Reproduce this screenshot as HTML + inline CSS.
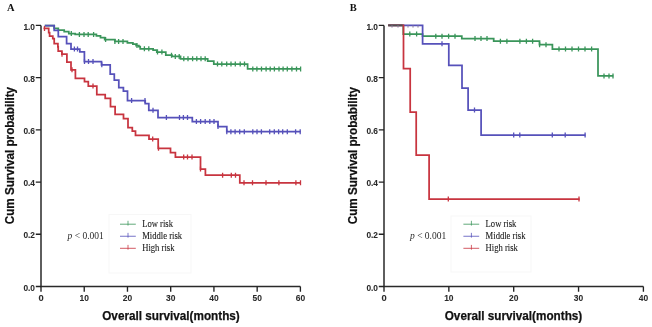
<!DOCTYPE html>
<html><head><meta charset="utf-8"><style>
html,body{margin:0;padding:0;background:#fff;}
body{width:652px;height:327px;overflow:hidden;}
svg{display:block;filter:blur(0.3px);}
.tl{font-family:"Liberation Sans",sans-serif;font-size:9.7px;font-weight:bold;fill:#2a2a2a;stroke:#2a2a2a;stroke-width:0.08px;}
.ti{font-family:"Liberation Sans",sans-serif;font-size:12px;font-weight:bold;fill:#111;stroke:#111;stroke-width:0.25px;}
.let{font-family:"Liberation Serif",serif;font-size:10.5px;font-weight:bold;fill:#111;}
.pv{font-family:"Liberation Serif",serif;font-size:9.5px;fill:#2a2a2a;}
.lg{font-family:"Liberation Serif",serif;font-size:9.3px;fill:#1a1a1a;stroke:#1a1a1a;stroke-width:0.1px;}
</style></head><body>
<svg width="652" height="327" viewBox="0 0 652 327">
<path d="M41.0,25.4V286.5H300.4" stroke="#2a2a2a" stroke-width="1.5" fill="none" stroke-linejoin="miter"/>
<path d="M35.8,286.50H41.0M35.8,234.28H41.0M35.8,182.06H41.0M35.8,129.84H41.0M35.8,77.62H41.0M35.8,25.40H41.0M41.00,286.5V291.7M84.23,286.5V291.7M127.47,286.5V291.7M170.70,286.5V291.7M213.93,286.5V291.7M257.17,286.5V291.7M300.40,286.5V291.7" stroke="#222" stroke-width="1.35" fill="none"/>
<text x="35.0" y="290.60" class="tl" text-anchor="end" textLength="11.6" lengthAdjust="spacingAndGlyphs">0.0</text>
<text x="35.0" y="238.38" class="tl" text-anchor="end" textLength="11.6" lengthAdjust="spacingAndGlyphs">0.2</text>
<text x="35.0" y="186.16" class="tl" text-anchor="end" textLength="11.6" lengthAdjust="spacingAndGlyphs">0.4</text>
<text x="35.0" y="133.94" class="tl" text-anchor="end" textLength="11.6" lengthAdjust="spacingAndGlyphs">0.6</text>
<text x="35.0" y="81.72" class="tl" text-anchor="end" textLength="11.6" lengthAdjust="spacingAndGlyphs">0.8</text>
<text x="35.0" y="29.50" class="tl" text-anchor="end" textLength="11.6" lengthAdjust="spacingAndGlyphs">1.0</text>
<text x="41.00" y="301.3" class="tl" text-anchor="middle" textLength="5.2" lengthAdjust="spacingAndGlyphs">0</text>
<text x="84.23" y="301.3" class="tl" text-anchor="middle" textLength="9.4" lengthAdjust="spacingAndGlyphs">10</text>
<text x="127.47" y="301.3" class="tl" text-anchor="middle" textLength="9.4" lengthAdjust="spacingAndGlyphs">20</text>
<text x="170.70" y="301.3" class="tl" text-anchor="middle" textLength="9.4" lengthAdjust="spacingAndGlyphs">30</text>
<text x="213.93" y="301.3" class="tl" text-anchor="middle" textLength="9.4" lengthAdjust="spacingAndGlyphs">40</text>
<text x="257.17" y="301.3" class="tl" text-anchor="middle" textLength="9.4" lengthAdjust="spacingAndGlyphs">50</text>
<text x="300.40" y="301.3" class="tl" text-anchor="middle" textLength="9.4" lengthAdjust="spacingAndGlyphs">60</text>
<text x="14.2" y="155.6" class="ti" text-anchor="middle" textLength="137.3" lengthAdjust="spacingAndGlyphs" transform="rotate(-90 14.2 155.6)">Cum Survival probability</text>
<text x="171.0" y="319.7" class="ti" text-anchor="middle" textLength="137.5" lengthAdjust="spacingAndGlyphs">Overall survival(months)</text>
<text x="7.0" y="10.8" class="let">A</text>
<text x="67.6" y="239.2" class="pv"><tspan font-style="italic">p</tspan> &lt; 0.001</text>
<rect x="109" y="214.5" width="82" height="58.5" fill="none" stroke="#f7f7f7" stroke-width="1"/>
<path d="M120.0,224.2H135.8" stroke="#3a955a" stroke-width="0.95" opacity="0.85"/>
<path d="M128.0,220.79999999999998V225.6" stroke="#3a955a" stroke-width="0.9" opacity="0.85"/>
<text x="142.2" y="227.00" class="lg" textLength="30.8" lengthAdjust="spacingAndGlyphs">Low risk</text>
<path d="M120.0,236.25H135.8" stroke="#5651ba" stroke-width="0.95" opacity="0.85"/>
<path d="M128.0,232.85V237.65" stroke="#5651ba" stroke-width="0.9" opacity="0.85"/>
<text x="142.2" y="239.05" class="lg" textLength="39.9" lengthAdjust="spacingAndGlyphs">Middle risk</text>
<path d="M120.0,248.29999999999998H135.8" stroke="#c8343f" stroke-width="0.95" opacity="0.85"/>
<path d="M128.0,244.89999999999998V249.7" stroke="#c8343f" stroke-width="0.9" opacity="0.85"/>
<text x="142.2" y="251.10" class="lg" textLength="32.25" lengthAdjust="spacingAndGlyphs">High risk</text>
<path d="M44.8,25.5H54.2V28.3H58.3V30.1H64.2V31.7H68.8V33.5H75.2V34.4H96.4V35.8H100.5V37.5H104.7V39.5H114.9V41.4H127.4V42.8H132.9V44.2H136.1V45.6H138.9V46.5H140.2V48.8H153.1V50.2H156.8V52.0H165.8V55.2H172.0V56.4H180.5V58.8H207.7V61.0H213.8V64.0H247.6V68.9H301" stroke="#3a955a" stroke-width="1.75" fill="none" stroke-linejoin="miter"/><path d="M71.3,31.0V36.0M79.4,31.9V36.9M84,31.9V36.9M88.2,31.9V36.9M93.6,31.9V36.9M105.6,37.0V42.0M114.9,38.9V43.9M118.6,38.9V43.9M123,38.9V43.9M137,43.1V48.1M144.4,46.3V51.3M148.8,46.3V51.3M157.5,49.5V54.5M161.9,49.5V54.5M171.5,52.7V57.7M175.3,53.9V58.9M179.2,53.9V58.9M183.8,56.3V61.3M188,56.3V61.3M192.6,56.3V61.3M196.8,56.3V61.3M201,56.3V61.3M205.2,56.3V61.3M217.5,61.5V66.5M221.8,61.5V66.5M226.7,61.5V66.5M231,61.5V66.5M235.3,61.5V66.5M240.2,61.5V66.5M244.5,61.5V66.5M252.8,66.4V71.4M256.9,66.4V71.4M261.5,66.4V71.4M266.1,66.4V71.4M270.2,66.4V71.4M274.4,66.4V71.4M279,66.4V71.4M283.1,66.4V71.4M287.3,66.4V71.4M291.9,66.4V71.4M296.5,66.4V71.4M300.6,66.4V71.4" stroke="#3a955a" stroke-width="1.3" fill="none"/>
<path d="M44.8,25.5H54.2V30.3H58.3V36.7H66.6V43.6H71.0V49.1H79.8V51.9H84.4V61.6H101.5V64.8H110.2V74.0H114.3V80.0H118.8V87.5H123.4V91.0H127.5V100.5H145.2V103.6H148.8V110.3H158.0V117.5H192.3V121.5H218.0V126.6H226.8V131.7H300.7" stroke="#5651ba" stroke-width="1.75" fill="none" stroke-linejoin="miter"/><path d="M74.4,46.6V51.6M77.5,46.6V51.6M84.5,59.1V64.1M88.5,59.1V64.1M93,59.1V64.1M101.8,62.3V67.3M131.6,98.0V103.0M145,98.0V103.0M153,107.8V112.8M166.4,115.0V120.0M179.5,115.0V120.0M183.4,115.0V120.0M187.5,115.0V120.0M196.4,119.0V124.0M200.6,119.0V124.0M205.2,119.0V124.0M209.8,119.0V124.0M214,119.0V124.0M218,124.1V129.1M226.8,129.2V134.2M230.9,129.2V134.2M235.1,129.2V134.2M239.7,129.2V134.2M244.3,129.2V134.2M252.8,129.2V134.2M257,129.2V134.2M261.4,129.2V134.2M269.7,129.2V134.2M274.3,129.2V134.2M278.6,129.2V134.2M282.7,129.2V134.2M287.3,129.2V134.2M295.6,129.2V134.2M300.2,129.2V134.2" stroke="#5651ba" stroke-width="1.3" fill="none"/>
<path d="M43.5,28.4H48.7V32.6H49.6V36.2H52.8V38.5H54.2V43.6H57.9V46.8H58.2V51.0H61.9V54.2H66.9V62.0H71.0V69.8H75.4V78.4H84.5V81.5H88.3V86.0H96.8V94.5H105.2V98.3H110.5V106.7H115.1V114.3H123.5V118.5H128.0V127.5H132.3V131.2H135.5V135.4H149.0V139.1H158.2V148.3H170.5V152.6H175.4V157.0H200.5V169.0H205.4V175.2H239.8V182.8H301" stroke="#c8343f" stroke-width="1.75" fill="none" stroke-linejoin="miter"/><path d="M44.5,25.9V30.9M62,51.7V56.7M72,67.3V72.3M93,83.5V88.5M152.7,136.6V141.6M158.5,145.8V150.8M183.7,154.5V159.5M187.5,154.5V159.5M192,154.5V159.5M200.5,166.5V171.5M222.6,172.7V177.7M231.3,172.7V177.7M235.5,172.7V177.7M244,180.3V185.3M252.5,180.3V185.3M266,180.3V185.3M278.9,180.3V185.3M295.9,180.3V185.3M300.5,180.3V185.3" stroke="#c8343f" stroke-width="1.3" fill="none"/>
<path d="M384.0,25.4V286.5H643.4" stroke="#2a2a2a" stroke-width="1.5" fill="none" stroke-linejoin="miter"/>
<path d="M378.8,286.50H384.0M378.8,234.28H384.0M378.8,182.06H384.0M378.8,129.84H384.0M378.8,77.62H384.0M378.8,25.40H384.0M384.00,286.5V291.7M448.85,286.5V291.7M513.70,286.5V291.7M578.55,286.5V291.7M643.40,286.5V291.7" stroke="#222" stroke-width="1.35" fill="none"/>
<text x="378.0" y="290.60" class="tl" text-anchor="end" textLength="11.6" lengthAdjust="spacingAndGlyphs">0.0</text>
<text x="378.0" y="238.38" class="tl" text-anchor="end" textLength="11.6" lengthAdjust="spacingAndGlyphs">0.2</text>
<text x="378.0" y="186.16" class="tl" text-anchor="end" textLength="11.6" lengthAdjust="spacingAndGlyphs">0.4</text>
<text x="378.0" y="133.94" class="tl" text-anchor="end" textLength="11.6" lengthAdjust="spacingAndGlyphs">0.6</text>
<text x="378.0" y="81.72" class="tl" text-anchor="end" textLength="11.6" lengthAdjust="spacingAndGlyphs">0.8</text>
<text x="378.0" y="29.50" class="tl" text-anchor="end" textLength="11.6" lengthAdjust="spacingAndGlyphs">1.0</text>
<text x="384.00" y="301.3" class="tl" text-anchor="middle" textLength="5.2" lengthAdjust="spacingAndGlyphs">0</text>
<text x="448.85" y="301.3" class="tl" text-anchor="middle" textLength="9.4" lengthAdjust="spacingAndGlyphs">10</text>
<text x="513.70" y="301.3" class="tl" text-anchor="middle" textLength="9.4" lengthAdjust="spacingAndGlyphs">20</text>
<text x="578.55" y="301.3" class="tl" text-anchor="middle" textLength="9.4" lengthAdjust="spacingAndGlyphs">30</text>
<text x="643.40" y="301.3" class="tl" text-anchor="middle" textLength="9.4" lengthAdjust="spacingAndGlyphs">40</text>
<text x="357.0" y="155.6" class="ti" text-anchor="middle" textLength="137.3" lengthAdjust="spacingAndGlyphs" transform="rotate(-90 357.0 155.6)">Cum Survival probability</text>
<text x="513.5" y="319.7" class="ti" text-anchor="middle" textLength="137.5" lengthAdjust="spacingAndGlyphs">Overall survival(months)</text>
<text x="349.8" y="10.8" class="let">B</text>
<text x="410.0" y="239.2" class="pv"><tspan font-style="italic">p</tspan> &lt; 0.001</text>
<rect x="451" y="216" width="80" height="56" fill="none" stroke="#f7f7f7" stroke-width="1"/>
<path d="M463.4,224.2H479.2" stroke="#3a955a" stroke-width="0.95" opacity="0.85"/>
<path d="M471.4,220.79999999999998V225.6" stroke="#3a955a" stroke-width="0.9" opacity="0.85"/>
<text x="485.59999999999997" y="227.00" class="lg" textLength="30.8" lengthAdjust="spacingAndGlyphs">Low risk</text>
<path d="M463.4,236.25H479.2" stroke="#5651ba" stroke-width="0.95" opacity="0.85"/>
<path d="M471.4,232.85V237.65" stroke="#5651ba" stroke-width="0.9" opacity="0.85"/>
<text x="485.59999999999997" y="239.05" class="lg" textLength="39.9" lengthAdjust="spacingAndGlyphs">Middle risk</text>
<path d="M463.4,248.29999999999998H479.2" stroke="#c8343f" stroke-width="0.95" opacity="0.85"/>
<path d="M471.4,244.89999999999998V249.7" stroke="#c8343f" stroke-width="0.9" opacity="0.85"/>
<text x="485.59999999999997" y="251.10" class="lg" textLength="32.25" lengthAdjust="spacingAndGlyphs">High risk</text>
<path d="M388.2,25.3H403.3V34.1H422.6V36.2H461.8V38.5H493.7V41.2H539.5V44.7H552.4V49.0H598.0V75.9H613.3" stroke="#3a955a" stroke-width="1.75" fill="none" stroke-linejoin="miter"/><path d="M409.8,31.6V36.6M416.6,31.6V36.6M435.8,33.7V38.7M442,33.7V38.7M448.6,33.7V38.7M455,33.7V38.7M475,36.0V41.0M481,36.0V41.0M487,36.0V41.0M500.4,38.7V43.7M506.9,38.7V43.7M519.9,38.7V43.7M526.4,38.7V43.7M532.6,38.7V43.7M539.6,42.2V47.2M546,42.2V47.2M559,46.5V51.5M565.5,46.5V51.5M572,46.5V51.5M578.5,46.5V51.5M585,46.5V51.5M591.6,46.5V51.5M604,73.4V78.4M609,73.4V78.4M613,73.4V78.4" stroke="#3a955a" stroke-width="1.3" fill="none"/>
<path d="M388.2,25.3H422.6V43.8H448.8V65.4H462.0V88.1H468.1V110.1H481.1V135.1H585.5" stroke="#5651ba" stroke-width="1.75" fill="none" stroke-linejoin="miter"/><path d="M442,41.3V46.3M474.5,107.6V112.6M513.7,132.6V137.6M519.8,132.6V137.6M552.3,132.6V137.6M565.2,132.6V137.6M585.1,132.6V137.6" stroke="#5651ba" stroke-width="1.3" fill="none"/>
<path d="M388.2,25.3H403.5V68.6H410.2V112.1H416.2V155.2H429.1V199.1H579.6" stroke="#c8343f" stroke-width="1.75" fill="none" stroke-linejoin="miter"/><path d="M448.3,196.6V201.6M579,196.6V201.6" stroke="#c8343f" stroke-width="1.3" fill="none"/>
<path d="M388.2,25.3H402.6" stroke="#505050" stroke-width="1.6"/>
<path d="M392,25.3V27.6M398,25.3V27.6M408,25.3V27.6M413,25.3V27.6M418,25.3V27.6" stroke="#8a7a9a" stroke-width="1"/>
</svg>
</body></html>
